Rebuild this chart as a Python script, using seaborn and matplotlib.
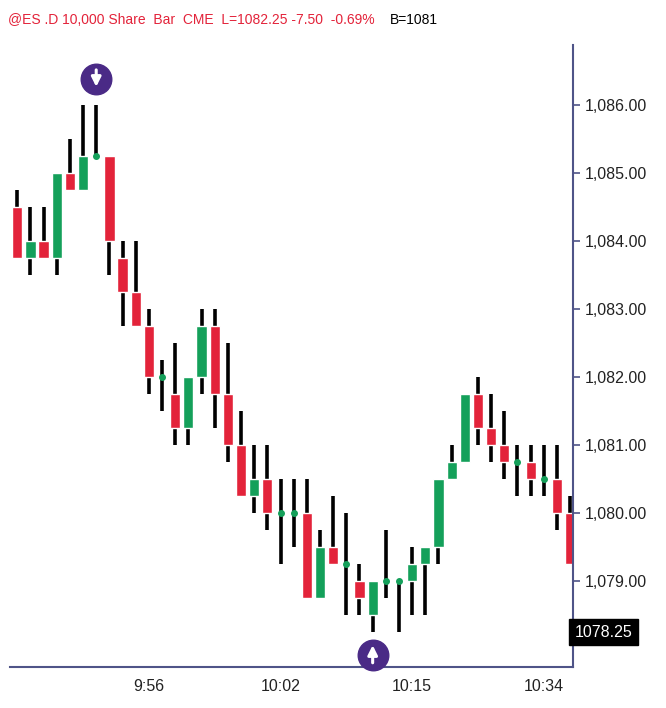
import numpy as np
import pandas as pd
import matplotlib
matplotlib.use("Agg")
import matplotlib.pyplot as plt
import seaborn as sns

# datos OHLC
opens = [1084.5, 1083.75, 1084.0, 1083.75, 1085.0, 1084.75, 1085.25, 1085.25, 1083.75, 1083.25,
         1082.75, 1082.0, 1081.75, 1081.25, 1082.0, 1082.75, 1081.75, 1081.0, 1080.25, 1080.5,
         1080.0, 1080.0, 1080.0, 1078.75, 1079.5, 1079.25, 1079.0, 1078.5, 1079.0, 1079.0,
         1079.0, 1079.25, 1079.5, 1080.5, 1080.75, 1081.75, 1081.25, 1081.0, 1080.75, 1080.75,
         1080.5, 1080.5, 1080.0]
closes = [1083.75, 1084.0, 1083.75, 1085.0, 1084.75, 1085.25, 1085.25, 1084.0, 1083.25, 1082.75,
          1082.0, 1082.0, 1081.25, 1082.0, 1082.75, 1081.75, 1081.0, 1080.25, 1080.5, 1080.0,
          1080.0, 1080.0, 1078.75, 1079.5, 1079.25, 1079.25, 1078.75, 1079.0, 1079.0, 1079.0,
          1079.25, 1079.5, 1080.5, 1080.75, 1081.75, 1081.25, 1081.0, 1080.75, 1080.75, 1080.5,
          1080.5, 1080.0, 1079.25]
highs = [1084.75, 1084.5, 1084.5, 1085.0, 1085.5, 1086.0, 1086.0, 1085.25, 1084.0, 1084.0,
         1083.0, 1082.25, 1082.5, 1082.0, 1083.0, 1083.0, 1082.5, 1081.5, 1081.0, 1081.0,
         1080.5, 1080.5, 1080.5, 1079.75, 1080.25, 1080.0, 1079.25, 1079.0, 1079.75, 1079.0,
         1079.5, 1079.5, 1080.5, 1081.0, 1081.75, 1082.0, 1081.75, 1081.5, 1081.0, 1081.0,
         1081.0, 1081.0, 1080.25]
lows = [1083.75, 1083.5, 1083.75, 1083.5, 1084.75, 1084.75, 1085.25, 1083.5, 1082.75, 1082.75,
        1081.75, 1081.5, 1081.0, 1081.0, 1081.75, 1081.25, 1080.75, 1080.25, 1080.0, 1079.75,
        1079.25, 1079.5, 1078.75, 1078.75, 1079.25, 1078.5, 1078.5, 1078.25, 1078.75, 1078.25,
        1078.5, 1078.5, 1079.25, 1080.5, 1080.75, 1081.0, 1080.75, 1080.5, 1080.25, 1080.25,
        1080.25, 1079.75, 1079.25]
tick_idx = [10, 20, 30, 40]
tick_labels = ["9:56", "10:02", "10:15", "10:34"]
y_ticks = [1079, 1080, 1081, 1082, 1083, 1084, 1085, 1086]
ultimo = "1078.25"
flecha_abajo, flecha_arriba = 6, 27

df = pd.DataFrame({"open": opens, "close": closes, "high": highs, "low": lows})
df["i"] = np.arange(len(df))

sns.set_style("white")
plt.rcParams["font.family"] = ["Liberation Sans", "DejaVu Sans"]

rojo, verde, azul = "#e3233a", "#14a05a", "#4f5488"
fig = plt.figure(figsize=(6.66, 7.08), dpi=100)
ax = fig.add_axes([0.015, 0.058, 0.845, 0.878])

ax.vlines(df["i"], df["low"], df["high"], color="black", lw=2.6, zorder=1)
for _, r in df.iterrows():
    if r["open"] == r["close"]:
        ax.plot(r["i"], r["close"], "o", color=verde, ms=4, zorder=3)
    else:
        c = verde if r["close"] > r["open"] else rojo
        lo = min(r["open"], r["close"])
        ax.bar(r["i"], abs(r["close"] - r["open"]), bottom=lo, width=0.78, color=c, zorder=2)

# flechas de senal
ax.plot(flecha_abajo, 1086.37, "o", ms=22, color="#4a2a86", zorder=4, clip_on=False)
ax.annotate("", xy=(flecha_abajo, 1086.22), xytext=(flecha_abajo, 1086.55),
            arrowprops=dict(arrowstyle="-|>", color="white", lw=2.2, mutation_scale=14), zorder=5)
ax.plot(flecha_arriba, 1077.92, "o", ms=22, color="#4a2a86", zorder=4, clip_on=False)
ax.annotate("", xy=(flecha_arriba, 1078.1), xytext=(flecha_arriba, 1077.76),
            arrowprops=dict(arrowstyle="-|>", color="white", lw=2.2, mutation_scale=14), zorder=5,
            annotation_clip=False)

ax.set_xlim(-0.55, 42.2)
ax.set_ylim(1077.74, 1086.87)
ax.yaxis.tick_right()
ax.set_yticks(y_ticks)
ax.set_yticklabels([f"{v:,.2f}" for v in y_ticks], fontsize=11.5, color="#222222")
ax.set_xticks(tick_idx)
ax.set_xticklabels(tick_labels, fontsize=11.5, color="#222222")
ax.tick_params(axis="both", direction="out", length=5, color=azul, width=1.2)
for s in ["top", "left"]:
    ax.spines[s].set_visible(False)
for s in ["right", "bottom"]:
    ax.spines[s].set_color(azul)
    ax.spines[s].set_linewidth(1.5)

ax.text(1.003, 1078.25, ultimo, transform=ax.get_yaxis_transform(), va="center", ha="left",
        fontsize=11.5, color="white",
        bbox=dict(boxstyle="square,pad=0.35", fc="black", ec="black"))

fig.text(0.012, 0.972, "@ES .D 10,000 Share  Bar  CME  L=1082.25 -7.50  -0.69%",
         color=rojo, fontsize=10, va="center")
fig.text(0.585, 0.972, "B=1081", color="black", fontsize=10, va="center")

fig.savefig("out.png", dpi=100)
